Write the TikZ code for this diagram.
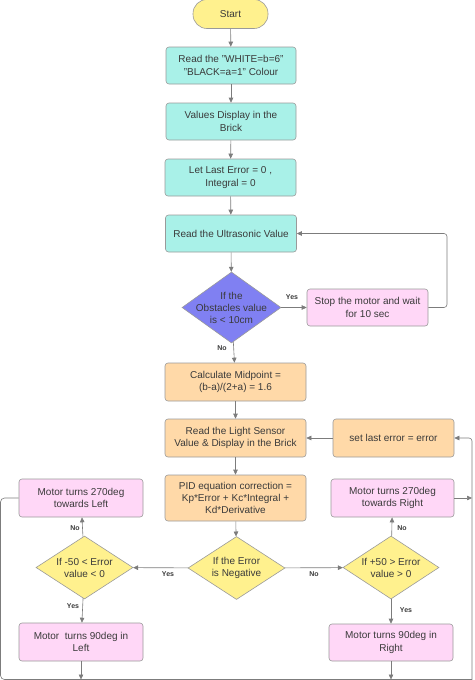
\documentclass[tikz,border=0pt]{standalone}
\usepackage{fontspec}
\setmainfont{Liberation Sans}
\usetikzlibrary{shapes.geometric,arrows.meta}

\definecolor{boxcyan}{HTML}{A9F1E8}
\definecolor{boxorange}{HTML}{FFD9A8}
\definecolor{boxpink}{HTML}{FFD7F7}
\definecolor{boxyellow}{HTML}{FFF18E}
\definecolor{boxblue}{HTML}{8080F2}
\definecolor{bordergray}{HTML}{9A9A9A}
\definecolor{linegray}{HTML}{7C7C7C}
\definecolor{textgray}{HTML}{3A3A3A}

\tikzset{
  process/.style={draw=bordergray, line width=0.6pt, rounded corners=3pt, align=center,
    text=textgray, inner sep=0pt, font=\fontsize{10}{12.3}\selectfont},
  decision/.style={diamond, draw=bordergray, line width=0.6pt, inner sep=0pt},
  dtext/.style={align=center, text=textgray, inner sep=0pt, font=\fontsize{10}{12}\selectfont},
  flow/.style={draw=linegray, line width=0.6pt, -{Triangle[length=5pt,width=4.5pt]}},
  plain/.style={draw=linegray, line width=0.6pt},
  answer/.style={text=textgray, font=\fontsize{7}{8}\selectfont\bfseries, inner sep=0pt}
}

\begin{document}
\begin{tikzpicture}[x=1pt, y=-1pt]

\useasboundingbox (0,0) rectangle (474,680);

% NODES %%%%%%%%%%%%%%%%%%%%%%%%%%%%%%%%%%%%%%%%%%%%%%%%%%%%%%%%%%%%%%%%%%

\node[process, fill=boxyellow, rounded corners=14pt, minimum width=75pt, minimum height=29pt] (start) at (230.5,14) {Start};

\node[process, fill=boxcyan, minimum width=130pt, minimum height=37pt] (read) at (231,65.5) {Read the "WHITE=b=6"\\"BLACK=a=1" Colour};
\node[process, fill=boxcyan, minimum width=130pt, minimum height=37pt] (disp) at (231,121.5) {Values Display in the\\Brick};
\node[process, fill=boxcyan, minimum width=131pt, minimum height=37pt] (init) at (230.5,177.5) {Let Last Error = 0 ,\\Integral = 0};
\node[process, fill=boxcyan, minimum width=131pt, minimum height=37pt] (ultra) at (231,233.5) {Read the Ultrasonic Value};

\node[decision, fill=boxblue, minimum width=99pt, minimum height=71pt] (obst) at (231.5,307.5) {};
\node[dtext] (obst-t) at (obst) {If the\\Obstacles value\\is < 10cm};
\node[process, fill=boxpink, minimum width=121pt, minimum height=37pt] (stop) at (367.5,307.5) {Stop the motor and wait\\for 10 sec};

\node[process, fill=boxorange, minimum width=141pt, minimum height=38pt] (mid) at (235.5,382) {Calculate Midpoint =\\(b-a)/(2+a) = 1.6};
\node[process, fill=boxorange, minimum width=141pt, minimum height=38pt] (light) at (235.5,438) {Read the Light Sensor\\Value \& Display in the Brick};
\node[process, fill=boxorange, minimum width=121pt, minimum height=38pt] (setlast) at (393.5,438) {set last error = error};
\node[process, fill=boxorange, minimum width=141pt, minimum height=46pt] (pid) at (235.5,498) {PID equation correction =\\Kp*Error + Kc*Integral +\\Kd*Derivative};

\node[process, fill=boxpink, minimum width=124pt, minimum height=38pt] (lm270) at (81,498) {Motor turns 270deg\\towards Left};
\node[process, fill=boxpink, minimum width=123pt, minimum height=38pt] (rm270) at (392.5,498) {Motor turns 270deg\\towards Right};

\node[decision, fill=boxyellow, minimum width=97pt, minimum height=63pt] (lchk) at (84.5,567.5) {};
\node[dtext] (lchk-t) at (lchk) {If -50 < Error\\value < 0};
\node[decision, fill=boxyellow, minimum width=97pt, minimum height=63pt] (neg) at (236.5,568) {};
\node[dtext] (neg-t) at (neg) {If the Error\\is Negative};
\node[decision, fill=boxyellow, minimum width=96pt, minimum height=63pt] (rchk) at (391,567.5) {};
\node[dtext] (rchk-t) at (rchk) {If +50 > Error\\value > 0};

\node[process, fill=boxpink, minimum width=124pt, minimum height=38pt] (lm90) at (81,642) {Motor~ turns 90deg in\\Left};
\node[process, fill=boxpink, minimum width=124pt, minimum height=37pt] (rm90) at (391,642.5) {Motor turns 90deg in\\Right};

\coordinate (loopR) at (447,233.5);
\coordinate (backR) at (472,679.5);
\coordinate (backL) at (0.5,679.5);

% LINKS %%%%%%%%%%%%%%%%%%%%%%%%%%%%%%%%%%%%%%%%%%%%%%%%%%%%%%%%%%%%%%%%%%

\draw[flow] (start) -- (read);
\draw[flow] (read) -- (disp);
\draw[flow] (disp) -- (init);
\draw[flow] (init) -- (ultra);
\draw[flow] (ultra) -- (obst);

\draw[flow] (obst) -- (stop);
\draw[flow, rounded corners=3pt] (stop.east) -| (loopR) -- (ultra.east);
\draw[flow] (obst) -- (mid);

\draw[flow] (mid) -- (light);
\draw[flow] (setlast) -- (light);
\draw[flow] (light) -- (pid);
\draw[flow] (pid) -- (neg);

\draw[flow] (neg) -- (lchk);
\draw[flow] (neg) -- (rchk);

\draw[flow] (lchk) -- (lm270);
\draw[flow] (lchk) -- (lm90);
\draw[flow] (rchk) -- (rm270);
\draw[flow] (rchk) -- (rm90);

\draw[flow] (rm270.east) -- (rm270.east -| backR);
\draw[flow, rounded corners=3pt] (backR) |- (setlast.east);
\draw[plain, rounded corners=4pt] (lm270.west) -| (backL) -- (backR);
\draw[flow] (lm90) -- (lm90.south |- backL);
\draw[flow] (rm90) -- (rm90.south |- backR);

% ETIQUETTES

\node[answer] (yes1) at (292,297) {Yes};
\node[answer] (no1) at (222,348) {No};
\node[answer] (yes2) at (168,574) {Yes};
\node[answer] (no2) at (314,574) {No};
\node[answer] (no3) at (75,528) {No};
\node[answer] (yes3) at (73,606) {Yes};
\node[answer] (no4) at (402,528) {No};
\node[answer] (yes4) at (406,610) {Yes};

\end{tikzpicture}
\end{document}
